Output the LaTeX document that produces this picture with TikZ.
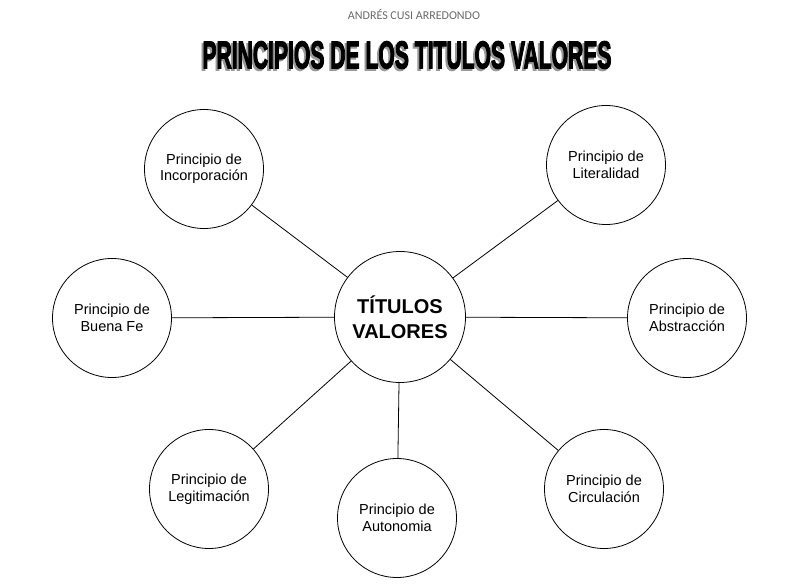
\documentclass[tikz,border=0pt]{standalone}
\usepackage{fontspec}
\usepackage{graphicx}
\setmainfont{Liberation Sans}
\newfontfamily\headfont{Carlito}
\newfontfamily\titlefont{Liberation Sans}[BoldFeatures={FakeBold=3.5}]
\definecolor{headgray}{RGB}{105,105,105}
\begin{document}
\begin{tikzpicture}[x=1pt,y=-1pt,
  principio/.style={draw,circle,line width=0.8pt,minimum size=119pt,inner sep=0pt,align=center,font=\fontsize{14.5}{16.5}\selectfont},
  centro/.style={draw,circle,line width=0.8pt,minimum size=131pt,inner sep=0pt,align=center,font=\fontsize{20}{25}\selectfont\bfseries},
  enlace/.style={line width=0.8pt}]
\useasboundingbox (0,0) rectangle (788,588);
% cabecera y titulo
\node[text=headgray,font=\headfont\fontsize{12}{14}\selectfont] (autor) at (414,15) {ANDRÉS CUSI ARREDONDO};
\node[text=black!40,inner sep=0pt] (sombra) at (405,57) {\resizebox{409pt}{27pt}{\titlefont\bfseries PRINCIPIOS DE LOS TITULOS VALORES}};
\node[inner sep=0pt] (titulo) at (407,55) {\resizebox{409pt}{27pt}{\titlefont\bfseries PRINCIPIOS DE LOS TITULOS VALORES}};
% circulos
\node[centro] (tv) at (400,317) {TÍTULOS\\VALORES};
\node[principio] (inc) at (204,169) {Principio de\\Incorporación};
\node[principio] (lit) at (606,165) {Principio de\\Literalidad};
\node[principio] (bue) at (112,318) {Principio de\\Buena Fe};
\node[principio] (abs) at (687,318) {Principio de\\Abstracción};
\node[principio] (leg) at (209,489) {Principio de\\Legitimación};
\node[principio] (aut) at (397,518) {Principio de\\Autonomia};
\node[principio] (cir) at (604,489) {Principio de\\Circulación};
% enlaces
\foreach \p in {inc,lit,bue,abs,leg,aut,cir}
  \draw[enlace] (tv) -- (\p);
\end{tikzpicture}
\end{document}
